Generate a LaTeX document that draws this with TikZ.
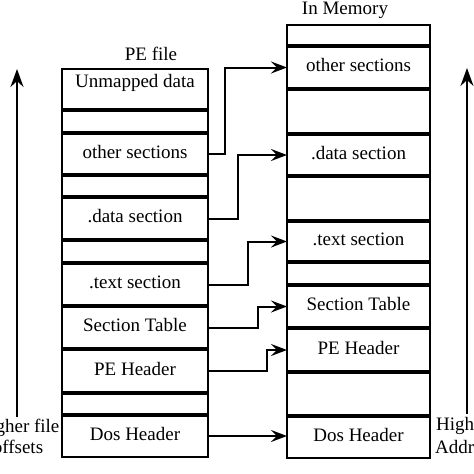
\documentclass[tikz,border=0pt]{standalone}
\usepackage{fontspec}
\setmainfont{Liberation Serif}
\usetikzlibrary{arrows.meta,calc}
\begin{document}
\begin{tikzpicture}[x=1pt,y=-1pt,
  cell/.style={inset=0pt,inner sep=0pt,outer sep=0pt,draw=none,
    font=\fontsize{19}{21}\selectfont,text height=8pt,text depth=0pt},
  lbl/.style={inner sep=0pt,font=\fontsize{19}{21}\selectfont},
  outline/.style={line width=2.5pt},
  sepline/.style={line width=3.5pt},
  conn/.style={line width=2pt,-{Stealth[length=16pt,width=12pt,inset=6pt]}},
  side/.style={line width=2.5pt,-{Stealth[length=18pt,width=13pt,inset=6pt]}}
]
\tikzset{inset/.style={}}
\useasboundingbox (0,0) rectangle (474,474);
% left column cells
\foreach \a/\b/\nm/\txt in {69/110/L1/{},110/133/L2/{},133/175/L3/{other sections},
  175/197/L4/{},197/240/L5/{.data section},240/263/L6/{},263/306/L7/{.text section},
  306/349/L8/{Section Table},349/393/L9/{PE Header},393/415/L10/{},415/457/L11/{Dos Header}}
  {\node[cell,minimum width=146pt,minimum height={(\b-\a)*1pt}] (\nm) at (135,{(\a+\b)/2}) {\txt};}
% right column cells
\foreach \a/\b/\nm/\txt in {25/46/R1/{},46/89/R2/{other sections},89/134/R3/{},
  134/176/R4/{.data section},176/221/R5/{},221/262/R6/{.text section},262/285/R7/{},
  285/328/R8/{Section Table},328/372/R9/{PE Header},372/416/R10/{},416/458/R11/{Dos Header}}
  {\node[cell,minimum width=143pt,minimum height={(\b-\a)*1pt}] (\nm) at (358.5,{(\a+\b)/2}) {\txt};}
\node[lbl,anchor=base] (unm) at ($(L1.north)+(0,18)$) {Unmapped data};
% outlines
\draw[outline] (L1.north west) rectangle (L11.south east);
\draw[outline] (R1.north west) rectangle (R11.south east);
\foreach \c in {L1,L2,L3,L4,L5,L6,L7,L8,L9,L10,R1,R2,R3,R4,R5,R6,R7,R8,R9,R10}
  {\draw[sepline] (\c.south west) -- (\c.south east);}
% titles
\node[lbl,anchor=base] (pet) at (151,60) {PE file};
\node[lbl,anchor=base] (memt) at (345,14) {In Memory};
% connectors
\draw[conn] (L3.east) -- ++(17,0) |- (R2.west);
\draw[conn] (L5.east) -- ++(30,0) |- (R4.west);
\draw[conn] (L7.east) -- ++(40,0) |- (R6.west);
\draw[conn] (L8.east) -- ++(50,0) |- (R8.west);
\draw[conn] (L9.east) -- ++(59,0) |- (R9.west);
\draw[conn] (L11.east) -- (L11.east -| R11.west);
% side arrows
\coordinate (la1) at (17,417);
\coordinate (la2) at (17,69);
\draw[side] (la1) -- (la2);
\coordinate (ra1) at (467,414);
\coordinate (ra2) at (467,68);
\draw[side] (ra1) -- (ra2);
\node[lbl,anchor=base] (lt1) at (18,432) {Higher file};
\node[lbl,anchor=base] (lt2) at (18,453) {offsets};
\node[lbl,anchor=base west] (rt1) at (436,430) {Higher};
\node[lbl,anchor=base west] (rt2) at (435,453) {Addresses};
\end{tikzpicture}
\end{document}
